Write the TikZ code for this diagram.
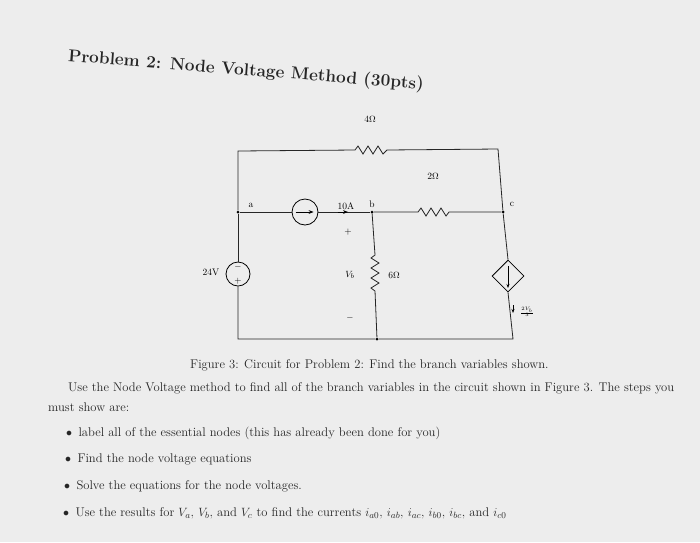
\documentclass[tikz,border=0pt]{standalone}
\usetikzlibrary{shapes.geometric,arrows.meta}
\begin{document}
\begin{tikzpicture}[x=1pt,y=-1pt,
  wire/.style={line width=0.8pt,draw=black!85},
  lbl/.style={font=\fontsize{9.5}{10}\selectfont,inner sep=1pt},
  txt/.style={font=\fontsize{12.6}{14}\selectfont,anchor=west,inner sep=0pt,text=black!85},
  dot/.style={circle,fill=black,inner sep=0pt,minimum size=3pt}]
\fill[black!7] (0,0) rectangle (700,542);
\useasboundingbox (0,0) rectangle (700,542);
% nodes
\coordinate (tl) at (238,151);
\coordinate (tr) at (498,149);
\node[dot] (a) at (238,212) {};
\node[dot] (b) at (372,212) {};
\node[dot] (c) at (503,212) {};
\coordinate (bl) at (238,339);
\node[dot] (bm) at (377,339) {};
\coordinate (br) at (513,339);
\node[circle,draw,line width=0.8pt,minimum size=26pt,inner sep=0pt] (cs) at (305,212) {};
\node[circle,draw,line width=0.8pt,minimum size=24pt,inner sep=0pt] (vs) at (238,274) {};
\node[diamond,draw,line width=0.8pt,minimum size=32pt,inner sep=0pt] (ds) at (508,276) {};
% wires
\draw[wire] (a) -- (tl) -- (355,150) -- ++(3,-4) -- ++(5,8) -- ++(5,-8) -- ++(5,8) -- ++(5,-8) -- ++(5,8) -- ++(4,-4) -- (tr) -- (c);
\draw[wire] (a) -- (cs.west);
\draw[wire] (cs.east) -- (b);
\draw[-{Stealth[length=5pt]},line width=0.8pt] (cs.west)++(4,0) -- ++(18,0);
\draw[-{Stealth[length=5pt]},line width=0.6pt] (338,212) -- (348,212);
\draw[wire] (b) -- (418,212) -- ++(3,-4) -- ++(5,8) -- ++(5,-8) -- ++(5,8) -- ++(5,-8) -- ++(5,8) -- ++(3,-4) -- (c);
\draw[wire] (b) -- (375,255) -- ++(-4,3) -- ++(8,5) -- ++(-8,5) -- ++(8,5) -- ++(-8,5) -- ++(8,5) -- ++(-8,5) -- ++(4,3) -- (bm);
\draw[wire] (a) -- (vs.north);
\draw[wire] (vs.south) -- (bl) -- (bm) -- (br) -- (ds.south);
\draw[wire] (c) -- (ds.north);
\draw[-{Stealth[length=4pt]},line width=0.9pt] (508,266) -- (508,288);
\draw[-{Stealth[length=4pt]},line width=0.6pt] (513,305) -- (513,313);
\node[lbl] at (238,267) {$-$};
\node[lbl] at (238,281) {$+$};
% labels
\node[lbl] (l4) at (370,119) {4$\Omega$};
\node[lbl] (l2) at (433,176) {2$\Omega$};
\node[lbl] (la) at (251,205) {a};
\node[lbl] (lb) at (372,204) {b};
\node[lbl] (lc) at (512,204) {c};
\node[lbl] (l10) at (346,206) {10A};
\node[lbl] (lp) at (348,232) {+};
\node[lbl] (lv) at (350,275) {$V_b$};
\node[lbl] (l6) at (394,275) {6$\Omega$};
\node[lbl] (lm) at (350,318) {$-$};
\node[lbl] (l24) at (211,272) {24V};
\node[lbl,font=\fontsize{7.5}{8}\selectfont] (ld) at (527,312) {$\frac{2V_b}{3}$};
% text
\node[txt,font=\bfseries\fontsize{17.2}{19}\selectfont,rotate=-4.5] (title) at (68,57) {Problem 2: Node Voltage Method (30pts)};
\node[txt] (cap) at (190,365) {Figure 3: Circuit for Problem 2: Find the branch variables shown.};
\node[txt] (p1) at (68,388) {Use the Node Voltage method to find all of the branch variables in the circuit shown in Figure 3. The steps you};
\node[txt] (p2) at (48,407) {must show are:};
\node[txt] (b1) at (66,433) {$\bullet$\enspace label all of the essential nodes (this has already been done for you)};
\node[txt] (b2) at (65,459) {$\bullet$\enspace Find the node voltage equations};
\node[txt] (b3) at (64,486) {$\bullet$\enspace Solve the equations for the node voltages.};
\node[txt] (b4) at (63,513) {$\bullet$\enspace Use the results for $V_a$, $V_b$, and $V_c$ to find the currents $i_{a0}$, $i_{ab}$, $i_{ac}$, $i_{b0}$, $i_{bc}$, and $i_{c0}$};
\end{tikzpicture}
\end{document}
